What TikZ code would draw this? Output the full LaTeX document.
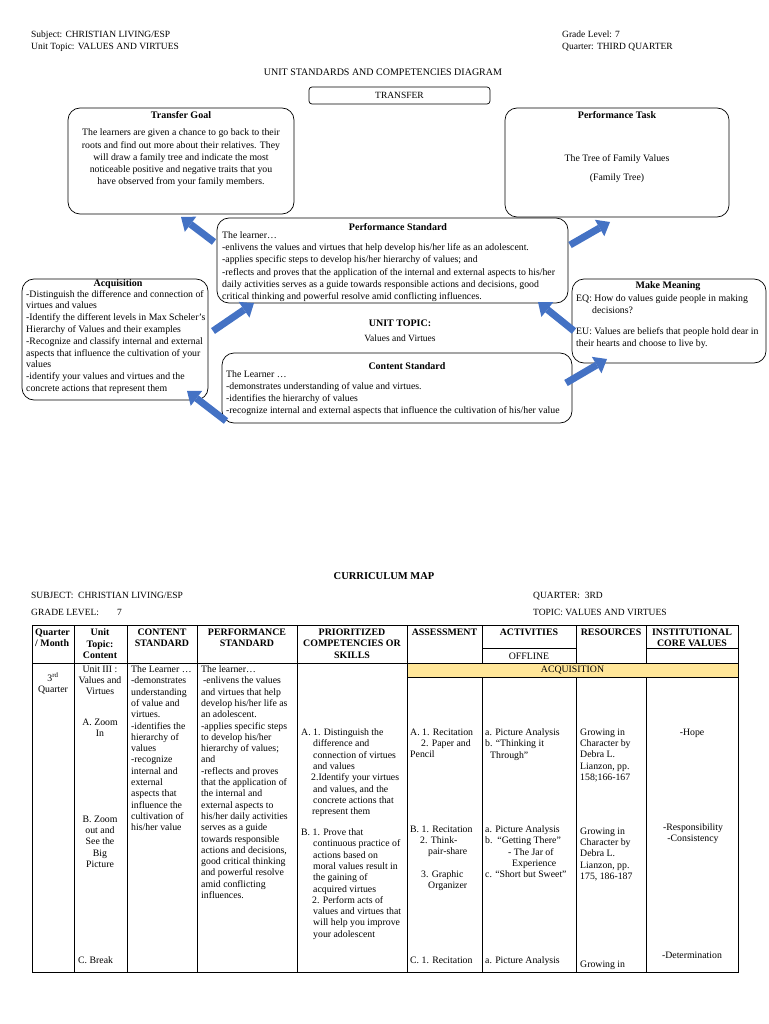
\documentclass[tikz,border=0pt]{standalone}
\usepackage{fontspec}
\setmainfont{Liberation Serif}
\usetikzlibrary{arrows.meta}
\definecolor{arrowblue}{RGB}{68,114,196}
\definecolor{acqyellow}{RGB}{255,230,153}
\tikzset{
  box/.style={draw, rounded corners=12pt, line width=0.7pt},
  boxtitle/.style={font=\bfseries\fontsize{10}{12}\selectfont, inner sep=0pt},
  boxtext/.style={font=\fontsize{9.8}{12.2}\selectfont, inner sep=0pt, align=left, anchor=north west},
  plain/.style={font=\fontsize{9.5}{11}\selectfont, inner sep=0pt, anchor=base west},
  cell/.style={font=\fontsize{9.8}{11.3}\selectfont, inner sep=0pt, align=left, anchor=north west},
  headcell/.style={font=\bfseries\fontsize{9.9}{11.5}\selectfont, inner sep=0pt, align=center, anchor=north},
  bluearrow/.style={draw=arrowblue, line width=7pt, -{Triangle[length=12pt,width=19pt,line width=0pt]}},
  grid/.style={line width=0.9pt},
}
\begin{document}
\begin{tikzpicture}[x=1pt,y=-1pt]
\useasboundingbox (0,0) rectangle (768,1024);

% Header of the diagram
\node[plain] (subject) at (31,38) {Subject: CHRISTIAN LIVING/ESP};
\node[plain] (unittopic) at (31,50) {Unit Topic: VALUES AND VIRTUES};
\node[plain] (grade) at (562,38) {Grade Level: 7};
\node[plain] (quarter) at (562,50) {Quarter: THIRD QUARTER};
\node[plain, anchor=base, font=\fontsize{10}{12}\selectfont] (diagram) at (383,75.5) {UNIT STANDARDS AND COMPETENCIES DIAGRAM};
\node[draw, rounded corners=3pt, line width=0.7pt, minimum width=181pt, minimum height=17pt, font=\fontsize{9.5}{11}\selectfont] (transfer) at (399.5,95.5) {TRANSFER};

% Transfer goal
\node[box, minimum width=226pt, minimum height=106pt] (goal) at (181,161) {};
\node[boxtitle, anchor=base] (goaltitle) at (181,118.5) {Transfer Goal};
\node[boxtext, align=center, anchor=north] (goaltext) at (181,129) {The learners are given a chance to go back to their\\roots and find out more about their relatives. They\\will draw a family tree and indicate the most\\noticeable positive and negative traits that you\\have observed from your family members.};

% Performance task
\node[box, minimum width=224pt, minimum height=109pt] (task) at (617,162.5) {};
\node[boxtitle, anchor=base] (tasktitle) at (617,118.5) {Performance Task};
\node[boxtext, anchor=base] (tasktext) at (617,161.5) {The Tree of Family Values};
\node[boxtext, anchor=base] (tasktree) at (617,180.5) {(Family Tree)};

% Performance standard
\node[box, minimum width=351pt, minimum height=85pt] (perf) at (392.5,260.5) {};
\node[boxtitle, anchor=base] (perftitle) at (398,230.5) {Performance Standard};
\node[boxtext] (perftext) at (222,231.5) {The learner…\\-enlivens the values and virtues that help develop his/her life as an adolescent.\\-applies specific steps to develop his/her hierarchy of values; and\\-reflects and proves that the application of the internal and external aspects to his/her\\daily activities serves as a guide towards responsible actions and decisions, good\\critical thinking and powerful resolve amid conflicting influences.};

% Acquisition
\node[box, minimum width=186pt, minimum height=121pt] (acqbox) at (115,339.5) {};
\node[boxtitle, anchor=base] (acqtitle) at (118,286) {Acquisition};
\node[boxtext, font=\fontsize{9.8}{11.8}\selectfont] (acqtext) at (26,290) {-Distinguish the difference and connection of\\virtues and values\\-Identify the different levels in Max Scheler’s\\Hierarchy of Values and their examples\\-Recognize and classify internal and external\\aspects that influence the cultivation of your\\values\\-identify your values and virtues and the\\concrete actions that represent them};

% Make meaning
\node[box, minimum width=194pt, minimum height=84pt] (meaning) at (669,321) {};
\node[boxtitle, anchor=base] (meaningtitle) at (668,288) {Make Meaning};
\node[boxtext] (eq) at (576,294.5) {EQ: How do values guide people in making};
\node[boxtext] (eqrest) at (592,306.5) {decisions?};
\node[boxtext] (eu) at (576,327) {EU: Values are beliefs that people hold dear in\\their hearts and choose to live by.};

% Unit topic
\node[boxtitle, anchor=base] (topic) at (400,326.5) {UNIT TOPIC:};
\node[plain, anchor=base] (topicname) at (400,341.5) {Values and Virtues};

% Content standard
\node[box, minimum width=350pt, minimum height=70pt] (content) at (397,388) {};
\node[boxtitle, anchor=base] (contenttitle) at (407,369) {Content Standard};
\node[boxtext] (contenttext) at (226,370) {The Learner …\\-demonstrates understanding of value and virtues.\\-identifies the hierarchy of values\\-recognize internal and external aspects that influence the cultivation of his/her value};

% Blue arrows
\coordinate (a1s) at (214,242); \coordinate (a1e) at (181,217);
\coordinate (a2s) at (570,245); \coordinate (a2e) at (610,222);
\coordinate (a3s) at (213,331); \coordinate (a3e) at (254,303);
\coordinate (a4s) at (574,331); \coordinate (a4e) at (538,302);
\coordinate (a5s) at (226,421); \coordinate (a5e) at (187,391);
\coordinate (a6s) at (566,383); \coordinate (a6e) at (607,359);
\foreach \n in {1,...,6}
  \draw[bluearrow] (a\n s) -- (a\n e);

% Curriculum map
\node[boxtitle, anchor=base, font=\bfseries\fontsize{10.5}{12}\selectfont] (cmap) at (384,579.5) {CURRICULUM MAP};
\node[plain] (csubject) at (31,598.5) {SUBJECT:\ \ CHRISTIAN LIVING/ESP};
\node[plain] (cquarter) at (533,598.5) {QUARTER:\ \ 3RD};
\node[plain] (cgrade) at (31,615.5) {GRADE LEVEL:};
\node[plain] (cgradeval) at (117,615.5) {7};
\node[plain] (ctopic) at (533,615.5) {TOPIC: VALUES AND VIRTUES};

% Table grid
\draw[grid] (32,625) rectangle (738,972);
\foreach \x in {74,127,197,297,407}
  \draw[grid] (\x,625) -- (\x,972);
\foreach \x in {482,576,646} {
  \draw[grid] (\x,625) -- (\x,663);
  \draw[grid] (\x,677) -- (\x,972);
}
\draw[grid] (32,663) -- (738,663);
\draw[grid] (482,648) -- (576,648);
\draw[grid] (646,648) -- (738,648);
\draw[grid, fill=acqyellow] (407,663) rectangle (738,677);
\node[cell, anchor=center] (acq) at (572.5,670.5) {ACQUISITION};

% Table header
\node[headcell, align=left, anchor=north west] (hquarter) at (35,628.5) {Quarter\\/ Month};
\node[headcell] (hunit) at (100,628.5) {Unit\\Topic:\\Content};
\node[headcell] (hcontent) at (162,628.5) {CONTENT\\STANDARD};
\node[headcell] (hperf) at (247,628.5) {PERFORMANCE\\STANDARD};
\node[headcell] (hcomp) at (352,628.5) {PRIORITIZED\\COMPETENCIES OR\\SKILLS};
\node[headcell] (hassess) at (444.5,628.5) {ASSESSMENT};
\node[headcell] (hact) at (529,628.5) {ACTIVITIES};
\node[cell, anchor=center] (hoffline) at (529,656) {OFFLINE};
\node[headcell] (hres) at (611,628.5) {RESOURCES};
\node[headcell] (hcore) at (692,628.5) {INSTITUTIONAL\\CORE VALUES};

% Quarter and unit topic
\node[cell, align=center, anchor=north] (q3) at (53,673) {3\textsuperscript{rd}\\Quarter};
\node[cell, align=center, anchor=north] (unit) at (100,665.5) {Unit III :\\Values and\\Virtues};
\node[cell, align=center, anchor=north] (zoomin) at (100,718.5) {A. Zoom\\In};
\node[cell, align=center, anchor=north] (zoomout) at (100,815.5) {B. Zoom\\out and\\See the\\Big\\Picture};
\node[cell] (break) at (78,956.5) {C. Break};

% Content and performance standard
\node[cell] (ccontent) at (131,665.5) {The Learner …\\-demonstrates\\understanding\\of value and\\virtues.\\-identifies the\\hierarchy of\\values\\-recognize\\internal and\\external\\aspects that\\influence the\\cultivation of\\his/her value};
\node[cell] (cperf) at (201,665.5) {The learner…\\\hspace*{2pt}-enlivens the values\\and virtues that help\\develop his/her life as\\an adolescent.\\-applies specific steps\\to develop his/her\\hierarchy of values;\\and\\-reflects and proves\\that the application of\\the internal and\\external aspects to\\his/her daily activities\\serves as a guide\\towards responsible\\actions and decisions,\\good critical thinking\\and powerful resolve\\amid conflicting\\influences.};

% Competencies
\node[cell] (compa) at (301,728.5) {A. 1. Distinguish the\\\hspace*{12pt}difference and\\\hspace*{12pt}connection of virtues\\\hspace*{12pt}and values\\\hspace*{10pt}2.Identify your virtues\\\hspace*{12pt}and values, and the\\\hspace*{12pt}concrete actions that\\\hspace*{11pt}represent them};
\node[cell] (compb) at (301,828.5) {B. 1. Prove that\\\hspace*{12pt}continuous practice of\\\hspace*{12pt}actions based on\\\hspace*{12pt}moral values result in\\\hspace*{12pt}the gaining of\\\hspace*{12pt}acquired virtues\\\hspace*{11pt}2. Perform acts of\\\hspace*{12pt}values and virtues that\\\hspace*{12pt}will help you improve\\\hspace*{12pt}your adolescent};

% Assessment
\node[cell] (assa) at (410,728.5) {A. 1. Recitation\\\hspace*{11pt}2. Paper and\\Pencil};
\node[cell] (assb) at (410,825.5) {B. 1. Recitation\\\hspace*{10pt}2. Think-\\\hspace*{18pt}pair-share\\\mbox{}\\\hspace*{11pt}3. Graphic\\\hspace*{18pt}Organizer};
\node[cell] (assc) at (410,956.5) {C. 1. Recitation};

% Activities
\node[cell] (acta) at (485,728.5) {a. Picture Analysis\\b. “Thinking it\\\hspace*{5pt}Through”};
\node[cell] (actb) at (485,825.5) {a. Picture Analysis\\b.\ \ “Getting There”\\\hspace*{23pt}- The Jar of\\\hspace*{27pt}Experience\\c. “Short but Sweet”};
\node[cell] (actc) at (485,956.5) {a. Picture Analysis};

% Resources
\node[cell] (resa) at (580,728.5) {Growing in\\Character by\\Debra L.\\Lianzon, pp.\\158;166-167};
\node[cell] (resb) at (580,827.5) {Growing in\\Character by\\Debra L.\\Lianzon, pp.\\175, 186-187};
\node[cell] (resc) at (580,960.5) {Growing in};

% Core values
\node[cell, anchor=center] (hope) at (692,733) {-Hope};
\node[cell, align=center, anchor=north] (resp) at (693,823.5) {-Responsibility\\-Consistency};
\node[cell, anchor=center] (determ) at (692,955) {-Determination};
\end{tikzpicture}
\end{document}
